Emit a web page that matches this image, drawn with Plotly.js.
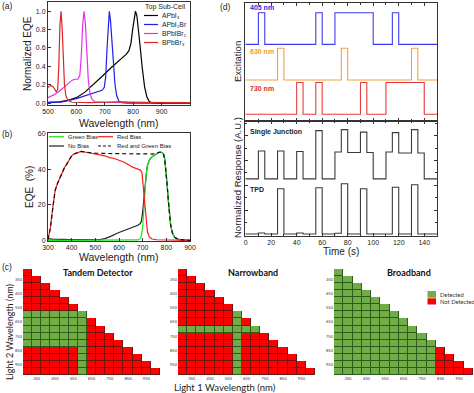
<!DOCTYPE html>
<html><head><meta charset="utf-8">
<script src="https://cdn.plot.ly/plotly-3.0.1.min.js"></script>
<style>html,body{margin:0;padding:0;background:#fff}#chart{width:474px;height:393px}</style>
</head><body><div id="chart"></div>
<script>
// ---------- Panel (a): normalized EQE of top sub-cells ----------
const wlAPbI3 = [500,540,570,600,630,660,690,720,750,775,785,792,798,804,808,813,818,825,832,840,848,856,865,880,1000];
const eqeAPbI3 = [0.01,0.015,0.03,0.06,0.12,0.2,0.29,0.38,0.46,0.53,0.57,0.65,0.8,0.95,1.0,0.95,0.82,0.6,0.38,0.18,0.07,0.02,0.005,0,0];
const wlAPbI2Br = [500,550,600,640,670,690,698,703,708,712,716,720,725,730,736,742,750,760,780,1000];
const eqeAPbI2Br = [0.005,0.015,0.05,0.09,0.12,0.14,0.17,0.28,0.6,0.9,1.0,0.9,0.65,0.4,0.2,0.08,0.02,0.005,0,0];
const wlBPbIBr2 = [500,520,540,560,575,585,595,605,612,617,622,627,632,637,642,648,655,665,700,800,1000];
const eqeBPbIBr2 = [0.06,0.09,0.13,0.18,0.22,0.25,0.26,0.26,0.3,0.5,0.85,1.0,0.85,0.5,0.25,0.1,0.04,0.015,0.01,0.01,0.005];
const wlBPbBr3 = [500,505,512,518,524,530,534,538,542,546,550,554,558,563,570,585,650,700,750,800,850,1000];
const eqeBPbBr3 = [0.17,0.185,0.19,0.18,0.15,0.12,0.15,0.4,0.85,1.0,0.8,0.45,0.2,0.08,0.03,0.01,0.005,0.01,0.015,0.01,0.005,0.005];
const aLegendTitle = "Top Sub-Cell";
const aNames = ["APbI\u2083","APbI\u2082Br","BPbIBr\u2082","BPbBr\u2083"];
const aTicksX = [500,600,700,800,900];
const aTicksY = [0,0.2,0.4,0.6,0.8,1.0];

// ---------- Panel (b): tandem EQE under bias light ----------
const wlRed = [300,310,320,330,340,350,360,370,380,390,400,410,420,440,460,480,500,520,540,560,580,600,620,640,660,680,690,697,702,708,714,720,728,740,760,800,900];
const eqeRed = [0.5,7,18,28,32,35,38.5,41,43,45,47.5,48.5,49,50,49.5,49,48.5,48,47.5,46.5,46,45,44,42.5,41,40,39.5,38,30,20,10,5,2,0.8,0.4,0.2,0.1];
const wlNoBias = [300,320,400,500,520,540,560,600,640,680,690,695,700,705,710,715,720,730,740,760,770,780,788,793,798,803,808,813,818,825,835,850,870,900];
const eqeNoBias = [1,0.8,0.5,0.3,0.5,1,2,4.5,6.5,8.5,9.5,11,16,24,31,37,42,45.5,47,49,49.5,49.5,48.5,46,40,32,23,15,9,4.5,1.8,0.6,0.2,0];
const wlGreen = [300,680,690,695,700,705,710,715,720,730,740,760,770,780,788,793,798,803,808,813,818,825,835,850,870,900];
const eqeGreen = [0,0.3,1,3,8,18,29,37,42,45.5,47,49,49.5,49.5,48.5,46,40,32,23,15,9,4.5,1.8,0.6,0.2,0];
const wlBoth = [300,310,320,330,340,350,360,370,380,390,400,410,420,440,460,500,550,600,650,700,740,760,770,780,788,793,798,803,808,813,818,825,835,850,870,900];
const eqeBoth = [0.5,7,18,28,32,35,38.5,41,43,45,47.5,48.5,49,50,49.5,49,48.8,48.7,48.6,48.5,48.5,49,49.5,49.5,48.5,46,40,32,23,15,9,4.5,1.8,0.6,0.2,0];
const bNames = ["Green Bias","Red Bias","No Bias","Red and Green Bias"];

// ---------- Panel (d): excitation sequence and responses ----------
const tSteps = [0,10,15,25,30,40,45,55,60,70,75,80,90,95,100,110,115,120,130,135,140,150];
const on405 = [0,1,0,0,0,0,0,1,0,1,1,1,1,1,0,0,1,0,0,0,0,0];
const on630 = [0,0,0,1,0,0,0,0,0,0,1,0,0,0,0,0,0,0,1,0,0,0];
const on730 = [0,0,0,0,0,1,0,1,0,0,0,0,1,0,0,1,1,1,1,1,0,0];
const respSingle = [1.13,1.69,1.13,1.69,1.13,1.68,1.13,2.10,1.13,1.67,2.12,1.66,2.07,1.66,1.13,1.67,2.06,1.65,2.12,1.65,1.13,1.13];
const respTPD = [0.02,0.04,0.02,0.93,0.02,0.04,0.02,0.95,0.02,0.035,1.03,0.02,0.93,0.02,0.02,0.02,0.96,0.02,1.01,0.02,0.02,0.02];
const excNames = ["405 nm","630 nm","730 nm"];
const respNames = ["Single Junction","TPD"];
const dTicksX = [0,20,40,60,80,100,120,140];

// ---------- Panel (c): detection maps (G = detected, R = not detected) ----------
const wlGrid = [300,350,400,450,500,550,600,650,700,750,800,850,900,950,1000];
const gridTicks = [350,450,550,650,750,850,950];
const tandemRows = ["R","RR","RRR","RRRR","RRRRR","RRRRRR","GGGGGGG","GGGGGGGR","GGGGGGGRR","GGGGGGGRRR","GGGGGGGRRRR","RRRRRRGRRRRR","RRRRRRGRRRRRR","RRRRRRGRRRRRRR","RRRRRRGRRRRRRRR"];
const narrowRows = ["R","RR","RRR","RRRR","RRRRR","RRRRRR","RRRRRRG","RRRRRRGR","GGGGGGGGG","RRRRRRGRRR","RRRRRRGRRRR","RRRRRRGRRRRR","RRRRRRGRRRRRR","RRRRRRGRRRRRRR","RRRRRRGRRRRRRRR"];
const broadRows = ["G","GG","GGG","GGGG","GGGGG","GGGGGG","GGGGGGG","GGGGGGGG","GGGGGGGGG","GGGGGGGGGG","GGGGGGGGGGG","GGGGGGGGGGGR","GGGGGGGGGGGRR","GGGGGGGGGGGRRR","GGGGGGGGGGGRRRR"];
const mapTitles = ["Tandem Detector","Narrowband","Broadband"];
const mapLegend = ["Detected","Not Detected"];

// ---------- layout helpers ----------
const W = 474, H = 393;
const X = p => p / W, Y = p => 1 - p / H;
const AR = "Liberation Sans, Arial, sans-serif";
const LT = "Lato, Open Sans, sans-serif";
const INK = "#222";

const traces = [];
const line = (x, y, xa, ya, color, width, dash, shape) => ({
  type: 'scatter', mode: 'lines', x, y, xaxis: xa, yaxis: ya, hoverinfo: 'skip', showlegend: false,
  line: {color, width, dash: dash || 'solid', shape: shape || 'linear'}
});

// (a)
const aColors = ['#000000', '#1f1fe6', '#e62ee6', '#e02424'];
traces.push(line(wlAPbI3, eqeAPbI3, 'x', 'y', aColors[0], 1.2));
traces.push(line(wlAPbI2Br, eqeAPbI2Br, 'x', 'y', aColors[1], 1.2));
traces.push(line(wlBPbIBr2, eqeBPbIBr2, 'x', 'y', aColors[2], 1.2));
traces.push(line(wlBPbBr3, eqeBPbBr3, 'x', 'y', aColors[3], 1.2));

// (b)
const bColors = ['#19e619', '#ff1a1a', '#222222', '#111111'];
traces.push(line(wlNoBias, eqeNoBias, 'x2', 'y2', bColors[2], 1.2));
traces.push(line(wlGreen, eqeGreen, 'x2', 'y2', bColors[0], 1.2));
traces.push(line(wlRed, eqeRed, 'x2', 'y2', bColors[1], 1.2));
traces.push(line(wlBoth, eqeBoth, 'x2', 'y2', bColors[3], 1.2, '4px,3px'));

// (d) excitation: each source on its own baseline
const excColors = ['#3c3cf0', '#f5a040', '#e83a3a'];
const excLabelColors = ['#2b2bd6', '#f09a30', '#e02a2a'];
const excBase = [2.34, 1.25, 0.2], excAmp = 0.97;
[on405, on630, on730].forEach((s, i) => {
  traces.push(line(tSteps, s.map(v => excBase[i] + v * excAmp), 'x4', 'y3', excColors[i], 1.1, null, 'hv'));
});
traces.push(line(tSteps, respSingle, 'x3', 'y4', '#3a3a3a', 1.1, null, 'hv'));
traces.push(line(tSteps, respTPD, 'x3', 'y4', '#3a3a3a', 1.1, null, 'hv'));

// (c) maps
const toZ = rows => rows.map(row => wlGrid.map((w, c) => c < row.length ? (row[c] === 'G' ? 1 : 0) : null));
[tandemRows, narrowRows, broadRows].forEach((rows, i) => {
  const z = toZ(rows);
  const xa = 'x' + (5 + i), ya = 'y' + (5 + i);
  traces.push({type: 'heatmap', x: wlGrid, y: wlGrid, z, xaxis: xa, yaxis: ya, zmin: 0, zmax: 1,
    colorscale: [[0, '#701414'], [1, '#2f5a1e']], showscale: false, hoverinfo: 'skip'});
  traces.push({type: 'heatmap', x: wlGrid, y: wlGrid, z, xaxis: xa, yaxis: ya, zmin: 0, zmax: 1, xgap: 1, ygap: 1,
    colorscale: [[0, '#ff0000'], [1, '#70ad47']], showscale: false, hoverinfo: 'skip'});
});

// axes
const frame = {showline: true, linecolor: '#333', linewidth: 1, mirror: true, showgrid: false, zeroline: false,
  ticks: 'inside', ticklen: 3, tickcolor: '#333', tickfont: {family: AR, size: 7, color: INK}};
const mapAxis = {showline: false, showgrid: false, zeroline: false, ticks: '', tickvals: gridTicks,
  tickfont: {family: LT, size: 4, color: '#333'}};

const layout = {
  width: W, height: H, margin: {l: 0, r: 0, t: 0, b: 0}, paper_bgcolor: '#fff', plot_bgcolor: 'rgba(0,0,0,0)',
  showlegend: false,
  xaxis: Object.assign({}, frame, {domain: [X(48), X(190)], anchor: 'y', range: [500, 1000], tickvals: aTicksX}),
  yaxis: Object.assign({}, frame, {domain: [Y(105), Y(2)], anchor: 'x', range: [-0.02, 1.1], tickvals: aTicksY, tickformat: '.1f'}),
  xaxis2: Object.assign({}, frame, {domain: [X(48), X(190)], anchor: 'y2', range: [300, 900], dtick: 100, tick0: 300}),
  yaxis2: Object.assign({}, frame, {domain: [Y(241), Y(133)], anchor: 'x2', range: [-0.3, 60.3], tickvals: [0, 20, 40, 60]}),
  xaxis3: Object.assign({}, frame, {domain: [X(245), X(437)], anchor: 'y4', range: [-0.5, 150], tickvals: dTicksX, mirror: 'ticks',
    minor: {ticks: 'inside', dtick: 10, ticklen: 2, tickcolor: '#333'}}),
  xaxis4: Object.assign({}, frame, {domain: [X(245), X(437)], anchor: 'y3', range: [-0.5, 150], dtick: 20, tick0: 0, mirror: 'ticks',
    showticklabels: false, minor: {ticks: 'inside', dtick: 10, ticklen: 2, tickcolor: '#333'}}),
  yaxis3: Object.assign({}, frame, {domain: [Y(120.7), Y(3.3)], anchor: 'x4', range: [0, 3.6], ticks: '', showticklabels: false}),
  yaxis4: Object.assign({}, frame, {domain: [Y(236), Y(120.7)], anchor: 'x3', range: [-0.02, 2.3], dtick: 0.5, tick0: 0,
    mirror: 'ticks', showticklabels: false, minor: {ticks: 'inside', dtick: 0.25, ticklen: 2, tickcolor: '#333'}}),
  xaxis5: Object.assign({}, mapAxis, {domain: [X(23), X(160)], anchor: 'y5', range: [275, 1025]}),
  yaxis5: Object.assign({}, mapAxis, {domain: [Y(375), Y(269)], anchor: 'x5', range: [1025, 275]}),
  xaxis6: Object.assign({}, mapAxis, {domain: [X(178), X(315)], anchor: 'y6', range: [275, 1025]}),
  yaxis6: Object.assign({}, mapAxis, {domain: [Y(375), Y(269)], anchor: 'x6', range: [1025, 275]}),
  xaxis7: Object.assign({}, mapAxis, {domain: [X(334), X(473)], anchor: 'y7', range: [275, 1025]}),
  yaxis7: Object.assign({}, mapAxis, {domain: [Y(375), Y(269)], anchor: 'x7', range: [1025, 275]}),
  annotations: [], shapes: []
};

const ann = (px, py, text, size, opts) => layout.annotations.push(Object.assign({
  xref: 'paper', yref: 'paper', x: X(px), y: Y(py), text, showarrow: false, xanchor: 'center', yanchor: 'middle',
  font: {family: AR, size, color: INK}}, opts || {}));
const seg = (x0, y0, x1, y1, color, width, dash) => layout.shapes.push({type: 'line', xref: 'paper', yref: 'paper',
  x0: X(x0), y0: Y(y0), x1: X(x1), y1: Y(y1), line: {color, width, dash: dash || 'solid'}});

// panel labels
ann(7, 6, '(a)', 8.5); ann(7, 134, '(b)', 8.5); ann(7, 267, '(c)', 8.5); ann(225, 7, '(d)', 8.5);
// axis titles
ann(27, 54, 'Normalized EQE', 10, {textangle: -90});
ann(119, 123, 'Wavelength (nm)', 10.5);
ann(29, 187, 'EQE\u00a0\u00a0(%)', 10, {textangle: -90});
ann(119, 257, 'Wavelength (nm)', 10.5);
ann(238, 62, 'Excitation', 9.5, {textangle: -90});
ann(238, 178, 'Normalized Response (A.U.)', 9.5, {textangle: -90});
ann(341, 252, 'Time (s)', 10);
ann(9, 332, 'Light 2 Wavelength (nm)', 9, {textangle: -90, font: {family: LT, size: 9, color: INK}});
ann(225, 387.5, 'Light 1 Wavelength (nm)', 9.5, {font: {family: LT, size: 9.5, color: INK}});

// (a) legend
ann(165, 7, aLegendTitle, 7);
aNames.forEach((n, i) => {
  const py = 15.5 + i * 9;
  seg(144, py, 158, py, aColors[i], 1.2);
  ann(160, py, n, 6.8, {xanchor: 'left'});
});
// (b) legend
const bLegPos = [[49, 136.7], [98, 136.7], [49, 146], [98, 146]];
bNames.forEach((n, i) => {
  const [px, py] = bLegPos[i];
  seg(px, py, px + 15, py, bColors[i], 1.2, i === 3 ? '3px,2px' : null);
  ann(px + 17, py, n, 6, {xanchor: 'left'});
});
// (d) labels
const bold = (size, color, family) => ({family: family || AR, size, color, weight: 'bold'});
excNames.forEach((n, i) => {
  ann(248, [7.5, 51.7, 88.3][i], n, 7, {xanchor: 'left', font: bold(7, excLabelColors[i])});
});
ann(248, 131.5, respNames[0], 7, {xanchor: 'left', font: bold(7, INK)});
ann(248, 189.5, respNames[1], 7, {xanchor: 'left', font: bold(7, INK)});
// (c) titles and legend
[[98, mapTitles[0]], [253, mapTitles[1]], [409, mapTitles[2]]].forEach(([px, t]) => {
  ann(px, 272.5, t, 9, {font: bold(9, '#111', LT)});
});
const sq = (x0, y0, x1, y1, color) => layout.shapes.push({type: 'rect', xref: 'paper', yref: 'paper',
  x0: X(x0), y0: Y(y0), x1: X(x1), y1: Y(y1), fillcolor: color, line: {width: 0}});
sq(427.5, 291, 436, 297.7, '#70ad47');
sq(427.5, 298.3, 436, 304.5, '#ff0000');
ann(437.5, 294.4, mapLegend[0], 5.8, {xanchor: 'left', font: {family: LT, size: 5.8, color: '#333'}});
ann(437.5, 301.4, mapLegend[1], 5.8, {xanchor: 'left', font: {family: LT, size: 5.8, color: '#333'}});

Plotly.newPlot('chart', traces, layout, {staticPlot: true, displayModeBar: false});
</script></body></html>
